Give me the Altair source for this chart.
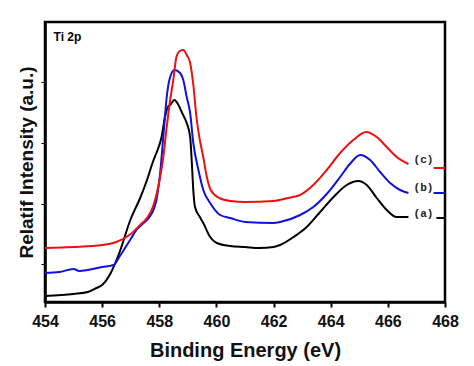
import altair as alt
import pandas as pd

# Binding energy (eV) and relative intensity (a.u.)
energy_c = [454.0, 455.0, 456.0, 456.5, 457.0, 457.33, 457.57, 457.8, 458.03, 458.14, 458.26, 458.38, 458.49,
            458.6, 458.72, 458.84, 458.96, 459.08, 459.2, 459.3, 459.42, 459.54, 459.65, 459.8, 460.1,
            460.5, 461.0, 462.0, 462.5, 462.93, 463.39, 463.86, 464.33, 464.79, 465.24, 465.61, 465.96,
            466.31, 466.72]
inten_c = [54, 55, 57, 60, 68, 77, 84, 97, 125, 145, 175, 202, 222,
           245, 251, 252, 247, 239, 215, 185, 162, 145, 127, 112, 104,
           101, 100, 101, 104, 107, 117, 132, 149, 162, 170, 165, 155,
           145, 138]

energy_b = [454.0, 454.5, 455.0, 455.2, 455.5, 456.0, 456.4, 456.6, 457.0, 457.2, 457.45, 457.68, 457.9,
            458.03, 458.14, 458.26, 458.38, 458.53, 458.73, 458.84, 458.96, 459.08, 459.19, 459.37,
            459.54, 459.78, 460.13, 460.48, 461.0, 462.0, 462.23, 462.93, 463.39, 463.86, 464.33,
            464.67, 465.03, 465.38, 465.73, 466.08, 466.43, 466.72]
inten_b = [29, 30, 33, 31, 32, 35, 37, 45, 63, 72, 79, 86, 102,
           129, 165, 205, 225, 232, 229, 222, 205, 189, 159, 132,
           112, 99, 87, 84, 80, 79, 80, 87, 95, 108, 125,
           138, 147, 142, 130, 119, 112, 109]

energy_a = [454.0, 455.0, 455.5, 455.8, 456.0, 456.3, 456.6, 457.0, 457.33, 457.57, 457.8, 457.9, 458.08,
            458.2, 458.3, 458.38, 458.53, 458.67, 458.8, 458.96, 459.08, 459.14, 459.19, 459.25, 459.42,
            459.54, 459.78, 460.01, 460.48, 461.0, 461.5, 462.0, 462.23, 462.7, 463.16, 463.63, 464.1,
            464.56, 464.97, 465.26, 465.61, 465.96, 466.31, 466.72]
inten_a = [6, 8, 10, 14, 17, 29, 49, 83, 104, 122, 142, 149, 165,
           185, 195, 197, 202, 197, 189, 179, 165, 139, 112, 95, 85,
           79, 65, 59, 56, 55, 54, 55, 57, 65, 75, 90, 105,
           117, 121, 117, 104, 92, 85, 85]

series_names = ["(a)", "(b)", "(c)"]
series_colors = ["#000000", "#1010e0", "#ee1010"]
label_x = [466.9, 466.9, 466.9]
label_y = [88, 114, 142]
marker_x = [467.7, 467.6, 467.6]
marker_x2 = [468.0, 468.0, 468.0]
marker_y = [84, 109, 134]

x_ticks = [454, 456, 458, 460, 462, 464, 466, 468]
y_ticks = [38, 98, 159, 220]

rows = []
for name, es, vs in [("(a)", energy_a, inten_a), ("(b)", energy_b, inten_b), ("(c)", energy_c, inten_c)]:
    for e, v in zip(es, vs):
        rows.append({"series": name, "energy": e, "intensity": v})
df = pd.DataFrame(rows)

lab = pd.DataFrame({"series": series_names, "x": label_x, "y": label_y,
                    "mx": marker_x, "mx2": marker_x2, "my": marker_y})

xscale = alt.Scale(domain=[454, 468], nice=False, zero=False)
yscale = alt.Scale(domain=[0, 280], nice=False, zero=False)
color = alt.Color("series:N", scale=alt.Scale(domain=series_names, range=series_colors), legend=None)

lines = alt.Chart(df).mark_line(strokeWidth=2, interpolate="monotone").encode(
    x=alt.X("energy:Q", scale=xscale,
            axis=alt.Axis(title="Binding Energy (eV)", values=x_ticks, format="d",
                          labelFont="Liberation Sans", labelFontSize=16, labelFontWeight="bold",
                          labelColor="#111", labelPadding=6, labelFlush=False, labelOverlap=False,
                          tickSize=5, tickWidth=2,
                          tickColor="black", domainColor="black", domainWidth=2.5, grid=False,
                          titleFont="Liberation Sans", titleFontSize=20, titleFontWeight="bold",
                          titleColor="#111", titlePadding=11)),
    y=alt.Y("intensity:Q", scale=yscale,
            axis=alt.Axis(title="Relatif Intensity (a.u.)", values=y_ticks, labels=False,
                          tickSize=4, tickWidth=1, tickColor="black", domainColor="black",
                          domainWidth=2.5, grid=False,
                          titleFont="Liberation Sans", titleFontSize=19, titleFontWeight="bold",
                          titleColor="#111", titlePadding=4)),
    color=color,
    detail="series:N",
    order="energy:Q",
)

labels = alt.Chart(lab).mark_text(font="Liberation Mono", fontSize=11, fontWeight="bold",
                                  align="left", baseline="middle", color="#222").encode(
    x=alt.X("x:Q", scale=xscale), y=alt.Y("y:Q", scale=yscale), text="series:N")

markers = alt.Chart(lab).mark_rule(strokeWidth=2).encode(
    x=alt.X("mx:Q", scale=xscale), x2="mx2:Q", y=alt.Y("my:Q", scale=yscale), color=color)

ti = alt.Chart(pd.DataFrame({"t": ["Ti 2p"], "x": [454.3], "y": [265]})).mark_text(
    font="Liberation Sans", fontSize=12, fontWeight=600, align="left", baseline="middle",
    color="black").encode(
    x=alt.X("x:Q", scale=xscale), y=alt.Y("y:Q", scale=yscale), text="t:N")

chart = alt.layer(lines, markers, labels, ti).properties(
    width=400, height=280,
    autosize=alt.AutoSizeParams(type="none"),
    padding={"left": 37, "top": 14, "right": 20, "bottom": 60},
).configure_view(stroke="black", strokeWidth=2.5)

chart.save("out.html", embed_options={"renderer": "svg", "actions": False})
